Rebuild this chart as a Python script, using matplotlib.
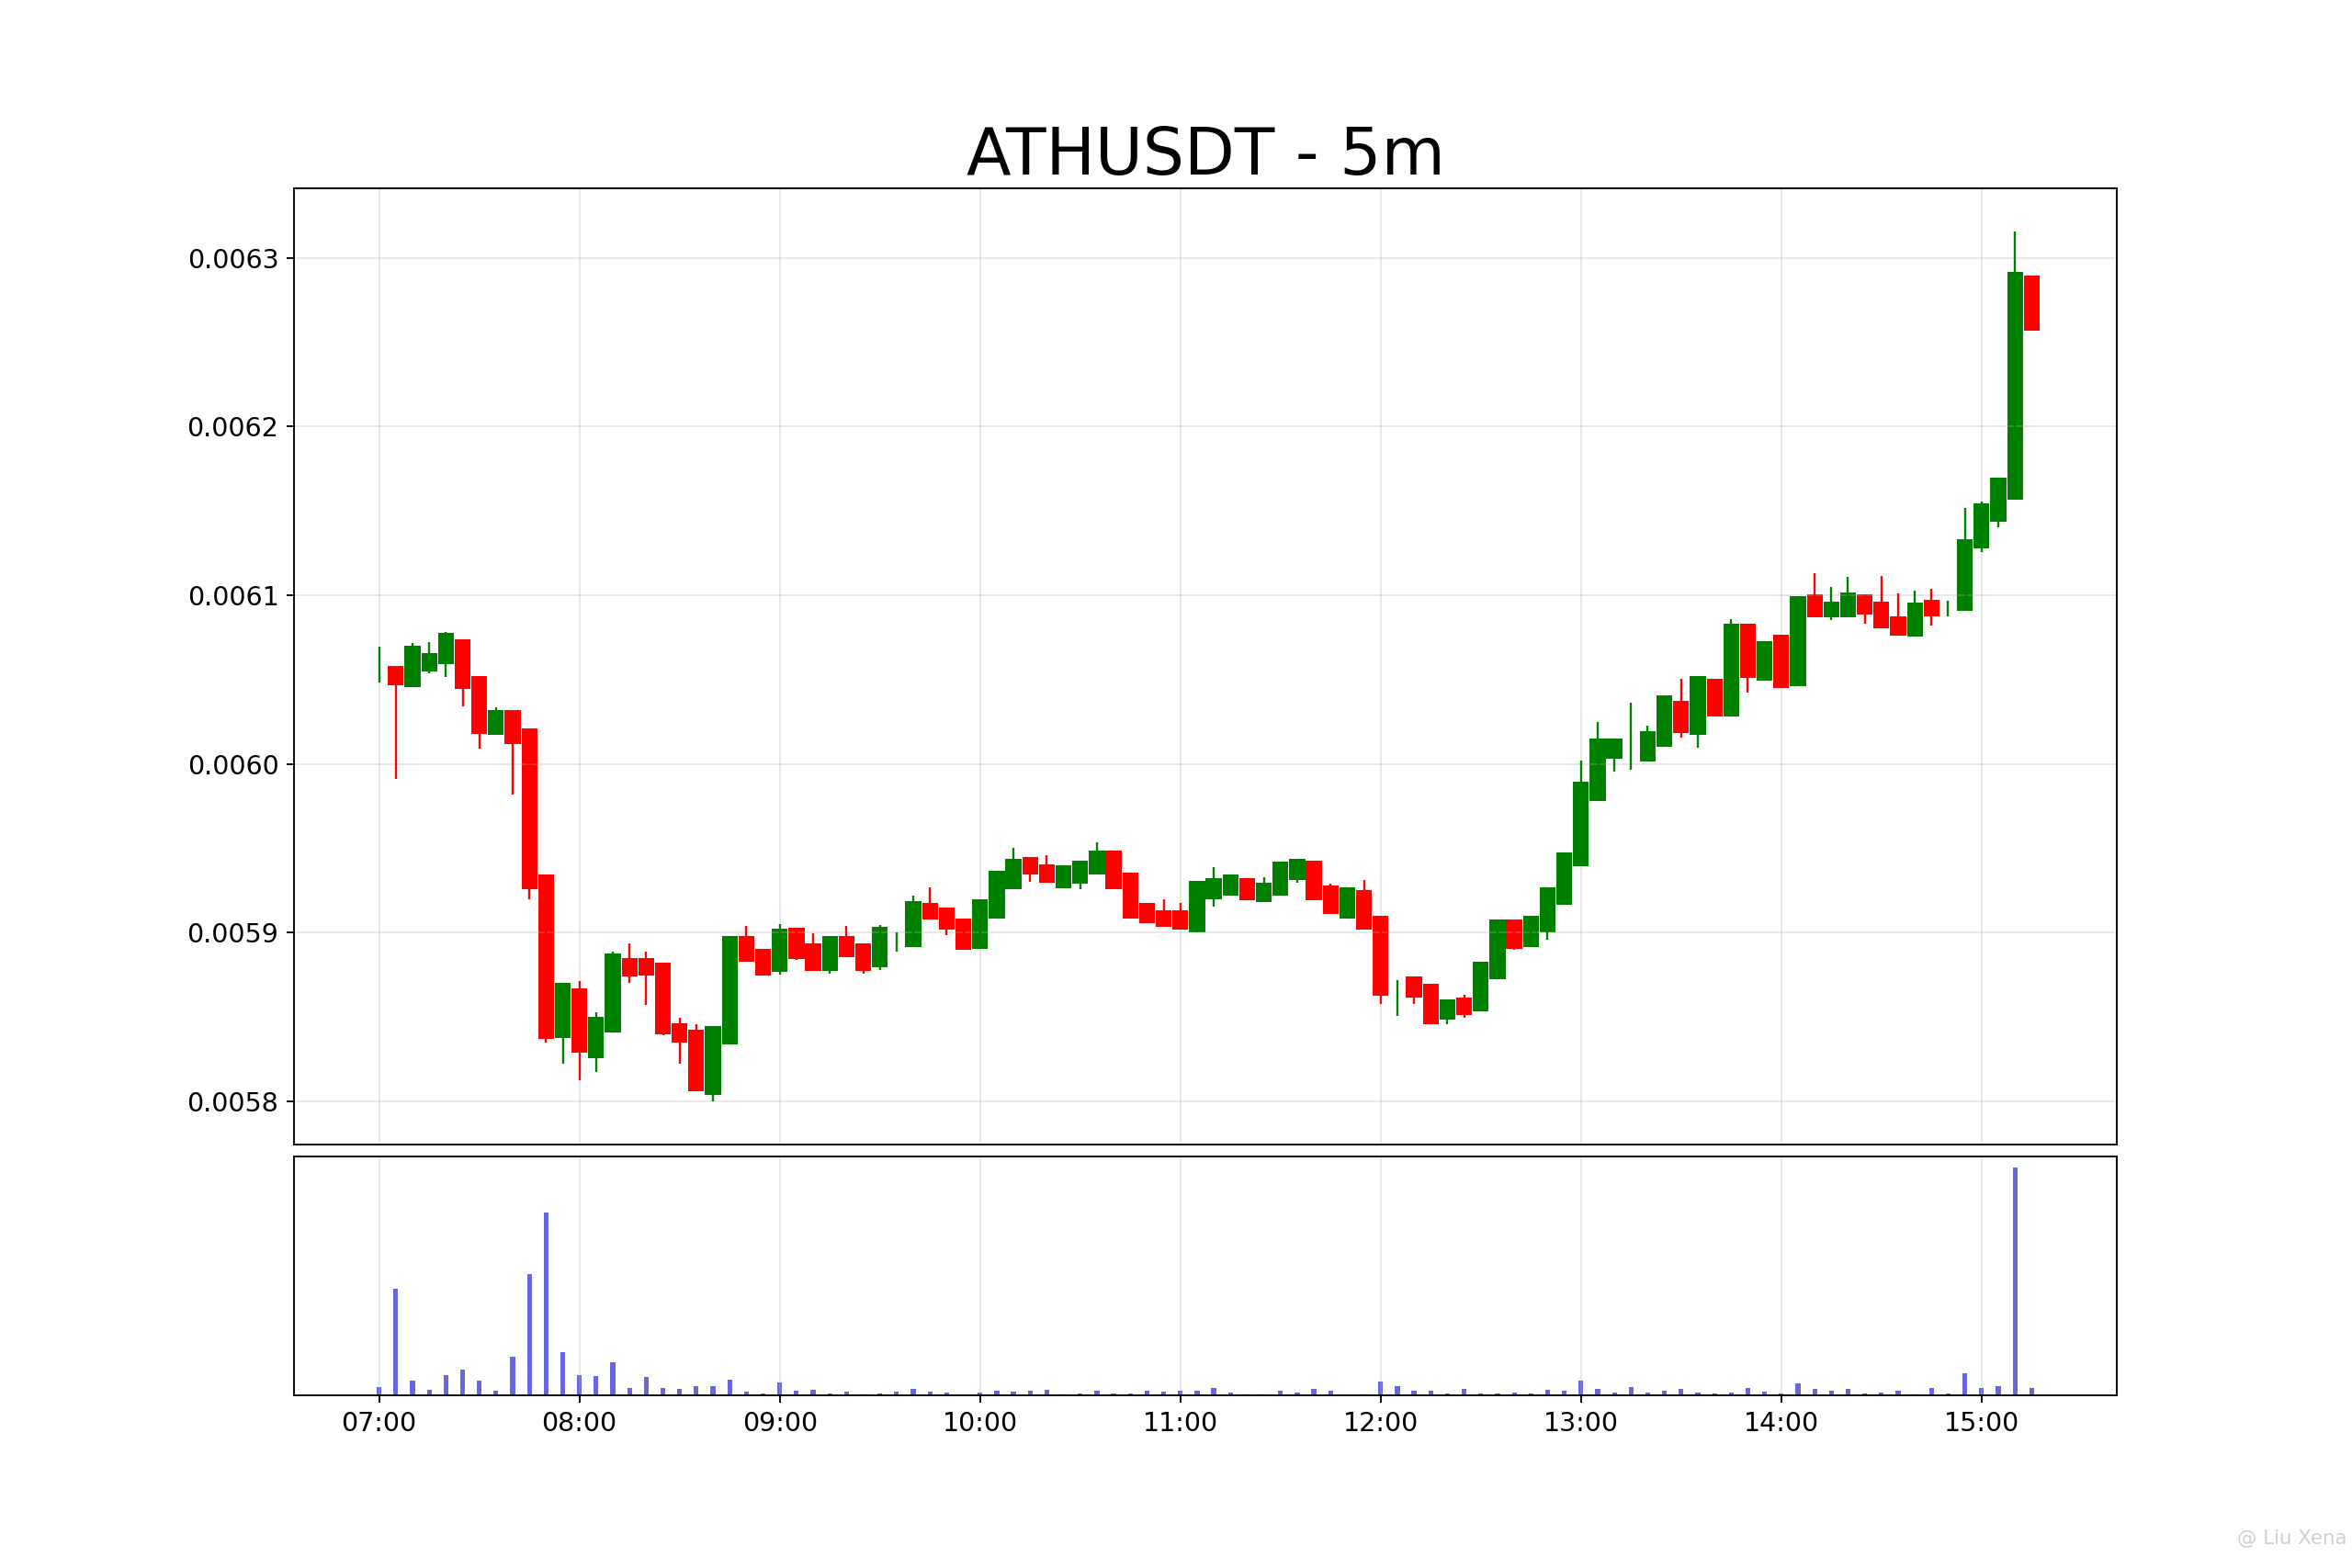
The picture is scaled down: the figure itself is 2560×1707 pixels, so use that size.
import matplotlib
matplotlib.use("Agg")
import matplotlib.pyplot as plt
import matplotlib.dates as mdates
from matplotlib.ticker import FormatStrFormatter
import numpy as np
import pandas as pd

# --- data: 5m candles, 07:00 -> 15:15 ---
times = pd.date_range("2024-01-01 07:00", periods=100, freq="5min")

opens = [
    0.0060600, 0.0060582, 0.0060458, 0.0060548, 0.0060594, 0.0060739, 0.0060518, 0.0060171, 0.0060321, 0.0060213,
    0.0059343, 0.0058374, 0.0058671, 0.0058255, 0.0058410, 0.0058851, 0.0058851, 0.0058821, 0.0058464, 0.0058426,
    0.0058038, 0.0058339, 0.0058982, 0.0058902, 0.0058765, 0.0059027, 0.0058937, 0.0058771, 0.0058978, 0.0058937,
    0.0058796, 0.0058940, 0.0058913, 0.0059175, 0.0059150, 0.0059081, 0.0058904, 0.0059085, 0.0059256, 0.0059448,
    0.0059405, 0.0059262, 0.0059289, 0.0059343, 0.0059484, 0.0059356, 0.0059175, 0.0059135, 0.0059135, 0.0059004,
    0.0059195, 0.0059222, 0.0059325, 0.0059184, 0.0059222, 0.0059311, 0.0059424, 0.0059280, 0.0059085, 0.0059253,
    0.0059099, 0.0058620, 0.0058738, 0.0058697, 0.0058482, 0.0058617, 0.0058536, 0.0058725, 0.0059078, 0.0058913,
    0.0059004, 0.0059163, 0.0059394, 0.0059782, 0.0060032, 0.0060150, 0.0060012, 0.0060104, 0.0060373, 0.0060173,
    0.0060503, 0.0060282, 0.0060831, 0.0060492, 0.0060767, 0.0060462, 0.0061003, 0.0060867, 0.0060867, 0.0061003,
    0.0060964, 0.0060872, 0.0060753, 0.0060975, 0.0060920, 0.0060906, 0.0061275, 0.0061433, 0.0061566, 0.0062897,
]
highs = [
    0.0060695, 0.0060582, 0.0060715, 0.0060723, 0.0060783, 0.0060739, 0.0060518, 0.0060333, 0.0060321, 0.0060213,
    0.0059343, 0.0058701, 0.0058715, 0.0058526, 0.0058886, 0.0058936, 0.0058886, 0.0058821, 0.0058494, 0.0058456,
    0.0058444, 0.0058982, 0.0059042, 0.0058902, 0.0059052, 0.0059027, 0.0058995, 0.0058978, 0.0059040, 0.0058937,
    0.0059045, 0.0059000, 0.0059217, 0.0059267, 0.0059150, 0.0059081, 0.0059199, 0.0059365, 0.0059500, 0.0059448,
    0.0059457, 0.0059397, 0.0059424, 0.0059536, 0.0059484, 0.0059356, 0.0059175, 0.0059199, 0.0059175, 0.0059307,
    0.0059388, 0.0059347, 0.0059325, 0.0059329, 0.0059419, 0.0059437, 0.0059424, 0.0059289, 0.0059267, 0.0059311,
    0.0059099, 0.0058720, 0.0058738, 0.0058697, 0.0058603, 0.0058630, 0.0058825, 0.0059078, 0.0059078, 0.0059099,
    0.0059267, 0.0059473, 0.0060021, 0.0060248, 0.0060151, 0.0060365, 0.0060226, 0.0060406, 0.0060503, 0.0060520,
    0.0060503, 0.0060858, 0.0060831, 0.0060725, 0.0060767, 0.0060992, 0.0061128, 0.0061047, 0.0061108, 0.0061003,
    0.0061116, 0.0061011, 0.0061025, 0.0061039, 0.0060969, 0.0061519, 0.0061557, 0.0061696, 0.0063155, 0.0062897,
]
lows = [
    0.0060482, 0.0059910, 0.0060458, 0.0060538, 0.0060514, 0.0060341, 0.0060092, 0.0060171, 0.0059821, 0.0059199,
    0.0058349, 0.0058223, 0.0058123, 0.0058173, 0.0058410, 0.0058701, 0.0058570, 0.0058394, 0.0058223, 0.0058062,
    0.0058002, 0.0058339, 0.0058827, 0.0058747, 0.0058751, 0.0058841, 0.0058771, 0.0058756, 0.0058856, 0.0058756,
    0.0058780, 0.0058888, 0.0058913, 0.0059076, 0.0058986, 0.0058899, 0.0058904, 0.0059085, 0.0059256, 0.0059303,
    0.0059294, 0.0059262, 0.0059256, 0.0059343, 0.0059258, 0.0059085, 0.0059058, 0.0059036, 0.0059018, 0.0059004,
    0.0059153, 0.0059222, 0.0059193, 0.0059184, 0.0059222, 0.0059298, 0.0059193, 0.0059112, 0.0059085, 0.0059018,
    0.0058576, 0.0058507, 0.0058576, 0.0058455, 0.0058455, 0.0058498, 0.0058536, 0.0058725, 0.0058897, 0.0058913,
    0.0058958, 0.0059163, 0.0059394, 0.0059782, 0.0059957, 0.0059965, 0.0060012, 0.0060104, 0.0060157, 0.0060096,
    0.0060282, 0.0060282, 0.0060420, 0.0060492, 0.0060448, 0.0060462, 0.0060867, 0.0060853, 0.0060867, 0.0060831,
    0.0060803, 0.0060761, 0.0060753, 0.0060822, 0.0060872, 0.0060906, 0.0061253, 0.0061405, 0.0061566, 0.0062570,
]
closes = [
    0.0060600, 0.0060468, 0.0060703, 0.0060655, 0.0060775, 0.0060442, 0.0060177, 0.0060321, 0.0060120, 0.0059257,
    0.0058370, 0.0058701, 0.0058289, 0.0058500, 0.0058876, 0.0058741, 0.0058747, 0.0058400, 0.0058349, 0.0058062,
    0.0058444, 0.0058982, 0.0058827, 0.0058747, 0.0059022, 0.0058846, 0.0058771, 0.0058978, 0.0058856, 0.0058771,
    0.0059036, 0.0058940, 0.0059188, 0.0059076, 0.0059018, 0.0058899, 0.0059199, 0.0059365, 0.0059437, 0.0059343,
    0.0059294, 0.0059397, 0.0059424, 0.0059484, 0.0059258, 0.0059085, 0.0059058, 0.0059036, 0.0059018, 0.0059307,
    0.0059325, 0.0059347, 0.0059193, 0.0059298, 0.0059419, 0.0059437, 0.0059193, 0.0059112, 0.0059267, 0.0059018,
    0.0058626, 0.0058620, 0.0058617, 0.0058455, 0.0058603, 0.0058512, 0.0058825, 0.0059078, 0.0058904, 0.0059099,
    0.0059267, 0.0059473, 0.0059893, 0.0060151, 0.0060151, 0.0060150, 0.0060193, 0.0060406, 0.0060184, 0.0060520,
    0.0060282, 0.0060831, 0.0060512, 0.0060725, 0.0060448, 0.0060992, 0.0060867, 0.0060964, 0.0061017, 0.0060886,
    0.0060803, 0.0060761, 0.0060956, 0.0060872, 0.0060920, 0.0061330, 0.0061546, 0.0061696, 0.0062917, 0.0062570,
]
volumes = [
    29, 348, 50, 19, 68, 84, 50, 16, 126, 396,
    598, 143, 67, 64, 110, 26, 62, 26, 21, 32,
    32, 53, 13, 6, 44, 16, 19, 8, 13, 4,
    8, 13, 23, 14, 11, 1, 11, 17, 14, 17,
    20, 5, 8, 17, 8, 8, 17, 14, 16, 16,
    26, 11, 5, 5, 16, 11, 22, 16, 1, 5,
    47, 30, 17, 17, 8, 23, 8, 8, 9, 6,
    19, 16, 50, 22, 11, 29, 11, 16, 23, 11,
    8, 11, 26, 14, 8, 41, 23, 16, 23, 6,
    11, 16, 4, 26, 6, 74, 26, 32, 743, 26,
]
volumes = [v * 1000 for v in volumes]

TITLE = "ATHUSDT - 5m"
DPI = 2560 / 15

# --- plotting ---
x = mdates.date2num(times.to_pydatetime())
o = np.array(opens)
h = np.array(highs)
l = np.array(lows)
c = np.array(closes)
colors = np.where(c >= o, "green", "red")

fig, (ax1, ax2) = plt.subplots(2, 1, figsize=(15, 10.002), dpi=DPI, sharex=True,
                               gridspec_kw={"height_ratios": [4, 1], "hspace": 0.02})

ax1.vlines(x, l, h, colors=colors, linewidth=1)
ax1.bar(x, c - o, width=0.0033, bottom=o, color=colors)
ax1.set_title(TITLE, fontsize=30)
ax1.grid(True, alpha=0.3)
ax1.yaxis.set_major_formatter(FormatStrFormatter("%.4f"))
ax1.tick_params(axis="x", bottom=False, labelbottom=False)
ax1.tick_params(axis="y", labelsize=12)

ax2.bar(x, volumes, width=0.001, color="mediumblue", alpha=0.6)
ax2.grid(True, alpha=0.3)
ax2.set_yticks([])
ax2.xaxis.set_major_locator(mdates.HourLocator())
ax2.xaxis.set_major_formatter(mdates.DateFormatter("%H:%M"))
ax2.tick_params(axis="x", labelsize=12)

pad = 25.5 / 1440
ax2.set_xlim(x[0] - pad, x[-1] + pad)

fig.text(0.998, 0.013, "@ Liu Xena", ha="right", va="bottom", color="#cfcfcf", fontsize=9)

fig.savefig("out.png", dpi=DPI)
